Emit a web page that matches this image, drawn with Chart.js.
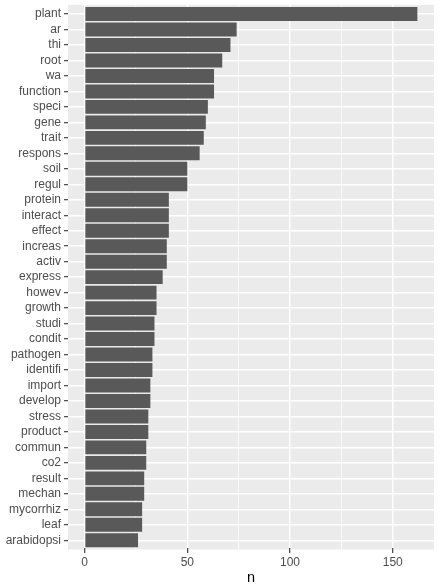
<!DOCTYPE html>
<html>
<head>
<meta charset="utf-8">
<script src="https://cdn.jsdelivr.net/npm/chart.js@4"></script>
<style>
html,body{margin:0;padding:0;background:#fff;}
#wrap{width:440px;height:588px;position:relative;}
</style>
</head>
<body>
<div id="wrap"><canvas id="c"></canvas></div>
<script>
const words = ["plant","ar","thi","root","wa","function","speci","gene","trait","respons","soil","regul","protein","interact","effect","increas","activ","express","howev","growth","studi","condit","pathogen","identifi","import","develop","stress","product","commun","co2","result","mechan","mycorrhiz","leaf","arabidopsi"];
const counts = [162,74,71,67,63,63,60,59,58,56,50,50,41,41,41,40,40,38,35,35,34,34,33,33,32,32,31,31,30,30,29,29,28,28,26];
const majorTicks = [0,50,100,150];
const minorTicks = [25,75,125];
const xTitle = "n";

const allX = majorTicks.concat(minorTicks).sort((a,b)=>a-b);
const isMajor = v => majorTicks.includes(v);
const EXT = 1.5;

const panelBg = {
  id:'panelBg',
  beforeDraw(chart){
    const {ctx, chartArea:a} = chart;
    const xs = chart.scales.x;
    ctx.save();
    ctx.fillStyle = '#EBEBEB';
    ctx.fillRect(a.left, a.top - EXT, a.right - a.left, a.bottom - a.top + 2*EXT);
    ctx.strokeStyle = '#FFFFFF';
    allX.forEach(v=>{
      const px = xs.getPixelForValue(v);
      ctx.lineWidth = isMajor(v) ? 1.4 : 0.7;
      ctx.beginPath();
      ctx.moveTo(px, a.top - EXT); ctx.lineTo(px, a.top);
      ctx.moveTo(px, a.bottom); ctx.lineTo(px, a.bottom + EXT);
      ctx.stroke();
    });
    ctx.restore();
  }
};

new Chart(document.getElementById('c'), {
  type:'bar',
  data:{
    labels: words,
    datasets:[{
      data: counts,
      backgroundColor:'#595959',
      borderWidth:0,
      categoryPercentage:0.9,
      barPercentage:1.0
    }]
  },
  plugins:[panelBg],
  options:{
    indexAxis:'y',
    responsive:true,
    maintainAspectRatio:false,
    animation:false,
    layout:{padding:{top:6.3,right:6,left:0,bottom:0}},
    plugins:{legend:{display:false},tooltip:{enabled:false}},
    scales:{
      x:{
        type:'linear',
        min:-8.1,
        max:170.1,
        afterBuildTicks(scale){ scale.ticks = allX.map(v=>({value:v})); },
        afterFit(scale){ scale.height = 40; scale.paddingLeft = 0; scale.paddingRight = 0; },
        border:{display:false},
        grid:{
          color:'#FFFFFF',
          lineWidth:ctx=> isMajor(ctx.tick.value) ? 1.4 : 0.7,
          drawTicks:true,
          tickLength:5,
          tickColor:ctx=> isMajor(ctx.tick.value) ? '#333333' : 'rgba(0,0,0,0)',
          tickWidth:1.1
        },
        ticks:{
          autoSkip:false,
          maxRotation:0,
          padding:2,
          color:'#4D4D4D',
          font:{family:'"Liberation Sans", Arial, sans-serif', size:12},
          callback:(v)=> isMajor(v) ? String(v) : ''
        },
        title:{
          display:true,
          text:xTitle,
          color:'#000000',
          font:{family:'"Liberation Sans", Arial, sans-serif', size:14.5},
          padding:{top:2,bottom:1.5}
        }
      },
      y:{
        type:'category',
        offset:true,
        afterFit(scale){ scale.width = 68; scale.paddingTop = 0; scale.paddingBottom = 0; },
        border:{display:false},
        grid:{
          offset:false,
          color:'#FFFFFF',
          lineWidth:1.4,
          drawTicks:true,
          tickLength:4,
          tickColor:'#333333',
          tickWidth:1.1
        },
        ticks:{
          autoSkip:false,
          padding:3,
          color:'#4D4D4D',
          font:{family:'"Liberation Sans", Arial, sans-serif', size:12}
        }
      }
    }
  }
});
</script>
</body>
</html>
